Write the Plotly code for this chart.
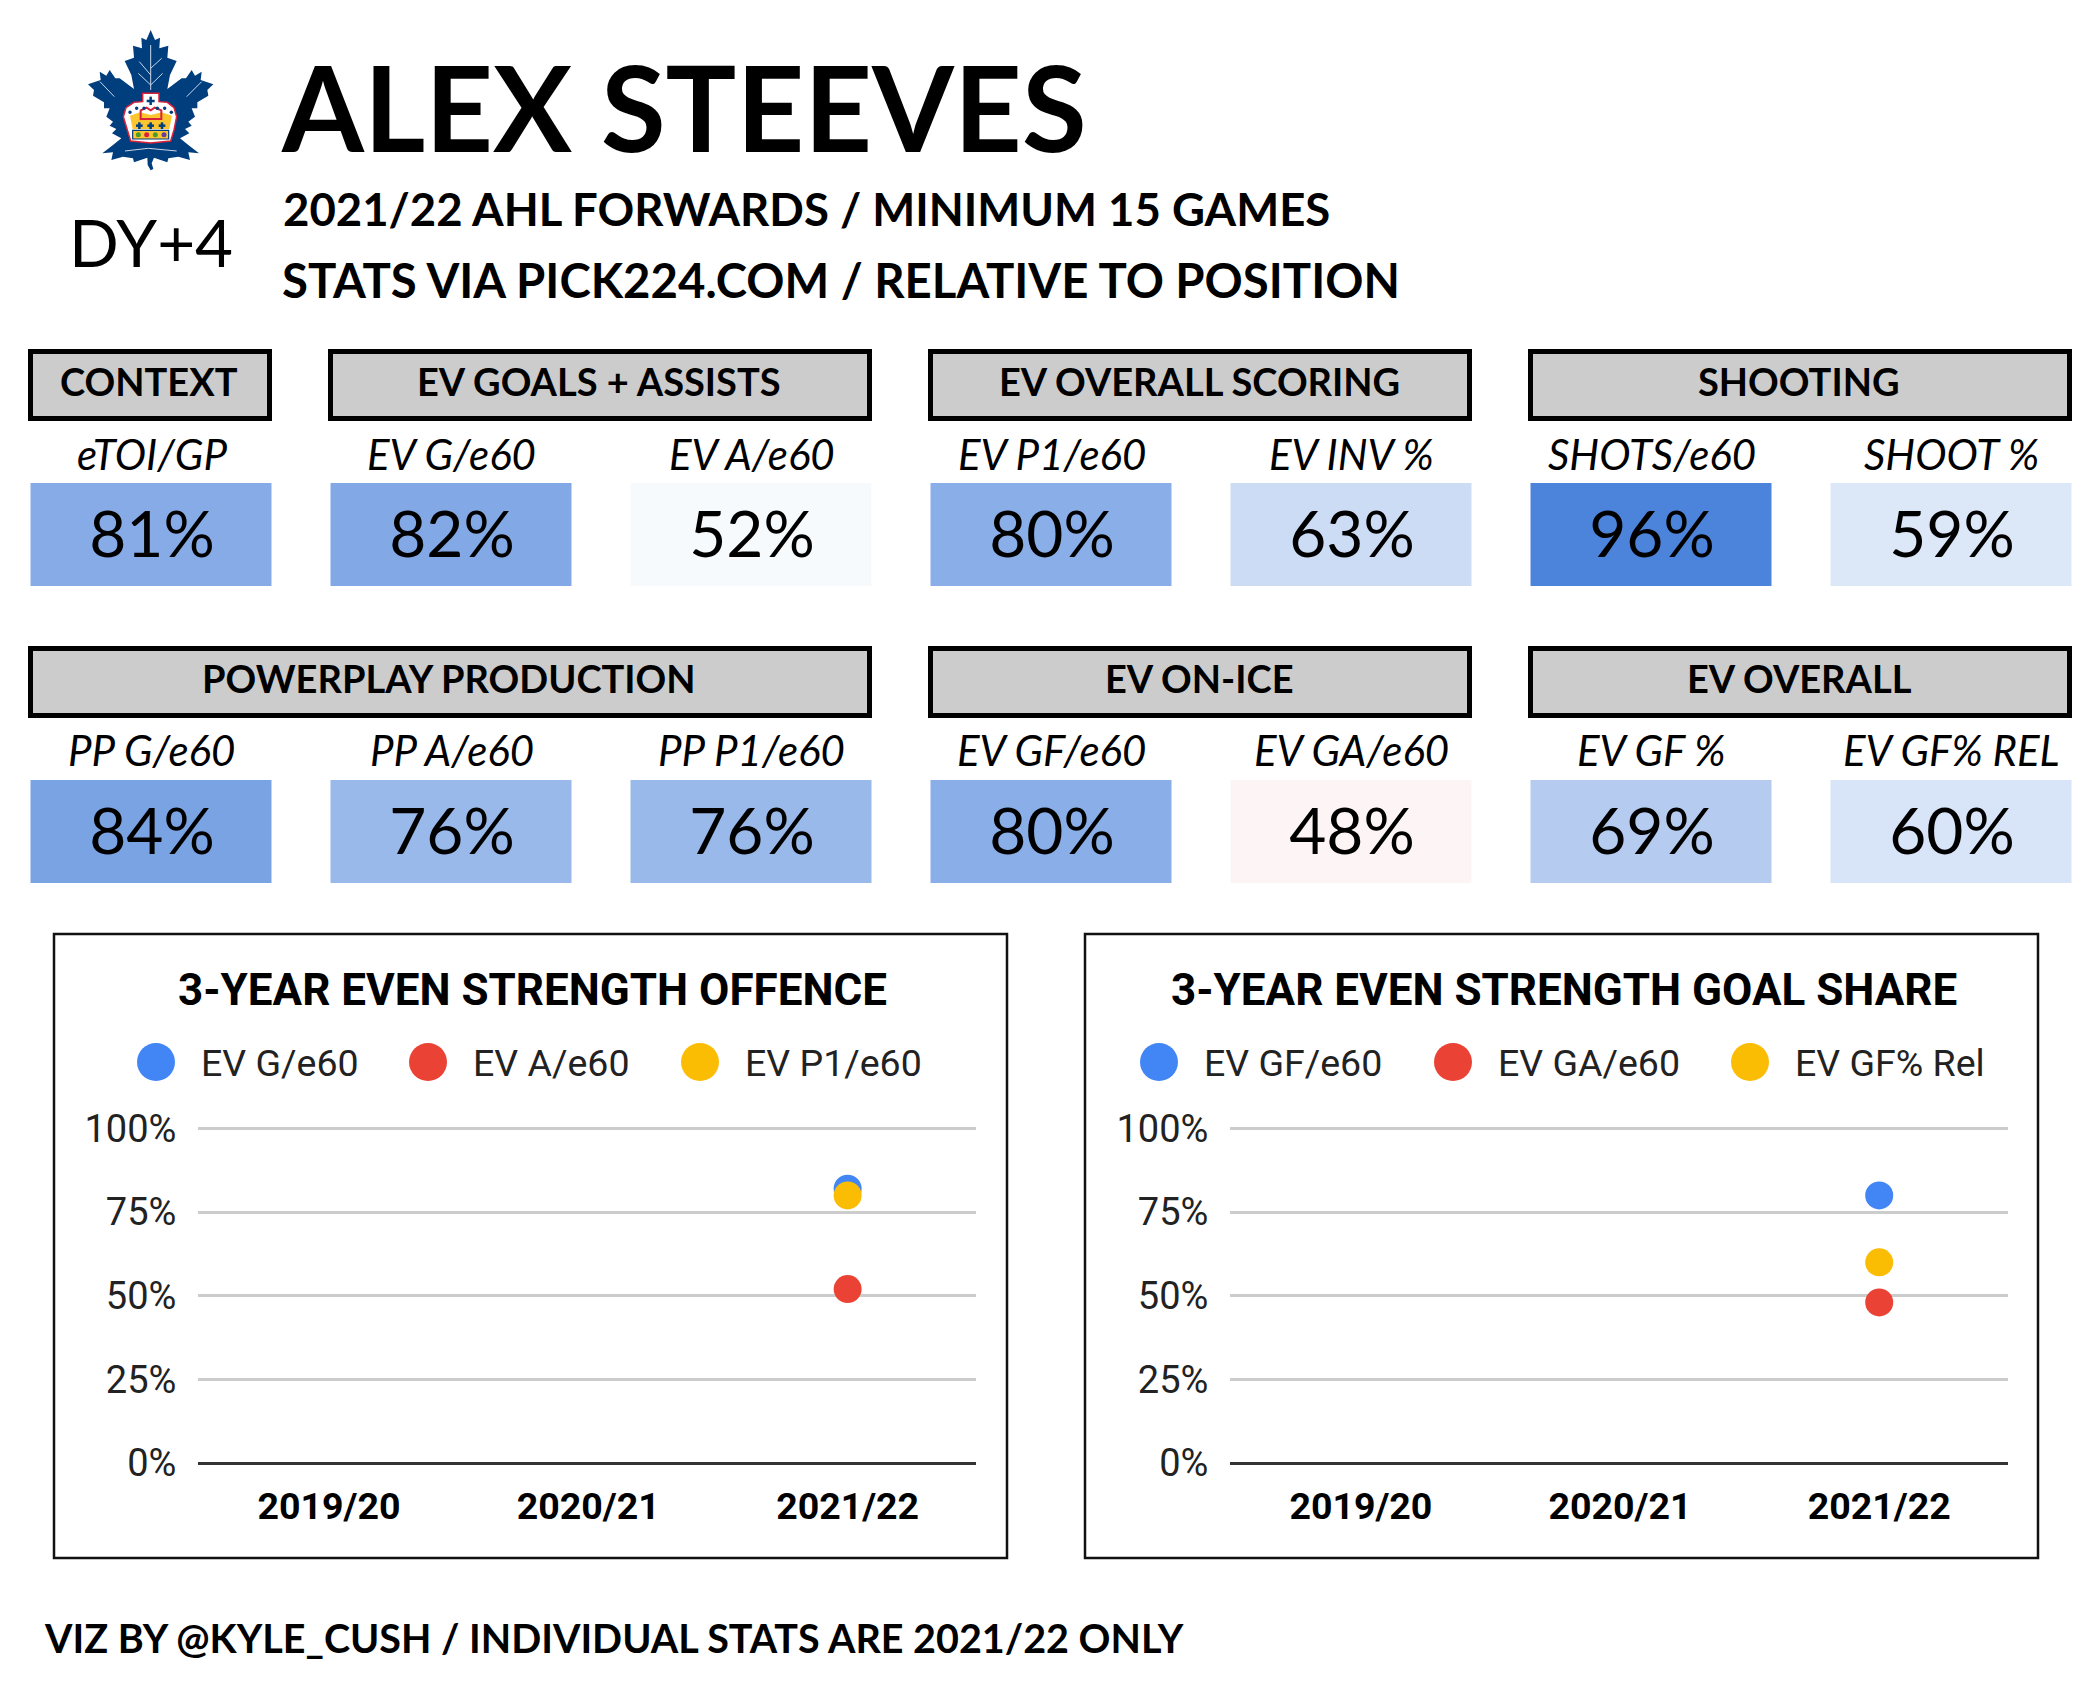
import plotly.graph_objects as go

W, H = 2100, 1700

player = "ALEX STEEVES"
draft_year = "DY+4"
subtitle_1 = "2021/22 AHL FORWARDS / MINIMUM 15 GAMES"
subtitle_2 = "STATS VIA PICK224.COM / RELATIVE TO POSITION"
footer = "VIZ BY @KYLE_CUSH / INDIVIDUAL STATS ARE 2021/22 ONLY"

top_labels = ["eTOI/GP", "EV G/e60", "EV A/e60", "EV P1/e60", "EV INV %", "SHOTS/e60", "SHOOT %"]
top_values = [81, 82, 52, 80, 63, 96, 59]
bottom_labels = ["PP G/e60", "PP A/e60", "PP P1/e60", "EV GF/e60", "EV GA/e60", "EV GF %", "EV GF% REL"]
bottom_values = [84, 76, 76, 80, 48, 69, 60]

top_sections = ["CONTEXT", "EV GOALS + ASSISTS", "EV OVERALL SCORING", "SHOOTING"]
top_spans = [(0, 0), (1, 2), (3, 4), (5, 6)]
bottom_sections = ["POWERPLAY PRODUCTION", "EV ON-ICE", "EV OVERALL"]
bottom_spans = [(0, 2), (3, 4), (5, 6)]

seasons = ["2019/20", "2020/21", "2021/22"]
pct_ticks = [0, 25, 50, 75, 100]
pct_labels = ["0%", "25%", "50%", "75%", "100%"]

left_title = "3-YEAR EVEN STRENGTH OFFENCE"
left_names = ["EV G/e60", "EV A/e60", "EV P1/e60"]
left_g = [None, None, 82]
left_a = [None, None, 52]
left_p1 = [None, None, 80]

right_title = "3-YEAR EVEN STRENGTH GOAL SHARE"
right_names = ["EV GF/e60", "EV GA/e60", "EV GF% Rel"]
right_gf = [None, None, 80]
right_ga = [None, None, 48]
right_rel = [None, None, 60]

series_colors = ["#4285f4", "#ea4335", "#fbbc04"]

HEAD = "Lato"
NAVY = "#003e7e"

# tile grid in pixels
col_left, col_pitch, tile_w = 31, 300, 241
row_mid, row_pitch, tile_h = 534.5, 297, 103

# chart plot area in pixels, the range runs a little past 0 and 100 so both edge lines draw
plot_top, plot_bottom = 1128.5, 1463
pad = 1
unit = (plot_bottom - plot_top) / 100


def fx(x):
    return x / W


def fy(y):
    return 1 - y / H


def poly(points, close=True):
    # svg path in paper coords from pixel points
    s = "M " + " L ".join(f"{fx(x):.5f} {fy(y):.5f}" for x, y in points)
    return s + (" Z" if close else "")


def text(x, y, s, size, family=HEAD, bold=False, italic=False, anchor="center", color="black"):
    return dict(
        x=fx(x), y=fy(y), xref="paper", yref="paper", text=s, showarrow=False,
        xanchor=anchor, yanchor="middle",
        font=dict(family=family, size=size, color=color,
                  weight="bold" if bold else "normal",
                  style="italic" if italic else "normal"),
    )


def rect(x0, y0, x1, y1, fill="rgba(0,0,0,0)", line="black", width=0):
    return dict(type="rect", xref="paper", yref="paper", x0=fx(x0), x1=fx(x1), y0=fy(y0), y1=fy(y1),
                fillcolor=fill, line=dict(color=line, width=width), layer="below")


def circle(cx, cy, d, color):
    return dict(type="circle", xref="paper", yref="paper", x0=fx(cx - d / 2), x1=fx(cx + d / 2),
                y0=fy(cy - d / 2), y1=fy(cy + d / 2), fillcolor=color, line=dict(width=0))


def path(points, fill="rgba(0,0,0,0)", line=None, width=0, close=True):
    return dict(type="path", xref="paper", yref="paper", path=poly(points, close),
                fillcolor=fill, line=dict(color=line or "rgba(0,0,0,0)", width=width))


def logo_shapes():
    # logo, in a 145x150 box (3x units)
    def p(pts):
        return [(80 + x / 3, 25 + y / 3) for x, y in pts]

    def mirror(pts):
        return [(424 - x, y) for x, y in reversed(pts)]

    half = [(212, 15), (225, 45), (240, 38), (238, 70), (265, 62), (262, 98), (290, 108), (270, 150),
            (262, 192), (305, 160), (318, 160), (335, 135), (345, 152), (365, 140), (362, 165),
            (400, 178), (382, 195), (385, 212), (352, 232), (352, 250), (335, 250), (345, 275),
            (325, 290), (335, 302), (315, 312), (328, 325), (300, 340), (325, 360), (357, 385),
            (325, 382), (330, 405), (295, 395), (265, 400), (262, 412), (222, 398)]
    leaf = half + [(215, 415), (220, 432), (212, 436), (203, 420)] + mirror(half)[:-1]
    out = [path(p(leaf), NAVY)]

    # veins
    for v in [[(212, 60), (212, 195)], [(212, 150), (178, 110)], [(212, 130), (245, 100)],
              [(212, 180), (175, 145)], [(212, 180), (248, 145)],
              [(60, 170), (103, 215)], [(365, 170), (320, 215)],
              [(135, 378), (205, 370), (290, 378)]]:
        out.append(path(p(v), line="#c9d6e6", width=1, close=False))

    # crown badge
    badge = [(188, 205), (237, 205), (237, 230), (262, 232), (282, 248), (290, 275), (282, 315), (272, 348),
             (212, 354), (152, 348), (142, 315), (130, 275), (138, 248), (162, 232), (188, 230)]
    out.append(path(p(badge), "white", "#d8213b", 1.5))
    gold = [(150, 272), (180, 262), (212, 270), (245, 262), (276, 272), (268, 312), (158, 312)]
    out.append(path(p(gold), "#fdc52f"))
    band = [(158, 316), (266, 316), (266, 342), (158, 342)]
    out.append(path(p(band), "#fdc52f", NAVY, 1.2))
    arch = [(182, 282), (182, 256), (200, 248), (212, 256), (224, 248), (244, 256), (244, 282)]
    out.append(path(p(arch), line="#d8213b", width=2))
    cross = [[(212, 215), (212, 240)], [(200, 228), (224, 228)], [(178, 292), (178, 312)], [(168, 302), (188, 302)],
             [(212, 292), (212, 312)], [(202, 302), (222, 302)], [(246, 292), (246, 312)], [(236, 302), (256, 302)]]
    for c in cross:
        out.append(path(p(c), line=NAVY, width=2.5, close=False))
    for x in [150, 170, 192, 232, 254, 274]:
        cx, cy = p([(x, 250 if 165 < x < 260 else 262)])[0]
        out.append(circle(cx, cy, 3.5, NAVY))
    for x, c in zip([175, 200, 226, 252], ["#4c9a2a", "#d8213b", "#4c9a2a", "#6a3d9a"]):
        cx, cy = p([(x, 329)])[0]
        out.append(circle(cx, cy, 5, c))
    return out


fig = go.Figure()

# percentile tiles
fig.add_trace(go.Heatmap(
    z=[top_values, bottom_values],
    zmin=0, zmax=100,
    colorscale=[[0, "#cc0000"], [0.5, "#ffffff"], [1, "#3c78d8"]],
    showscale=False, hoverinfo="skip",
    xgap=col_pitch - tile_w, ygap=row_pitch - tile_h,
    texttemplate="%{z}%",
    textfont=dict(family=HEAD, size=64, color="black"),
    xaxis="x", yaxis="y",
))

# 3-year dot charts
for names, vals, xa, ya in [
    (left_names, [left_g, left_a, left_p1], "x2", "y2"),
    (right_names, [right_gf, right_ga, right_rel], "x3", "y3"),
]:
    for name, v, c in zip(names, vals, series_colors):
        fig.add_trace(go.Scatter(
            x=seasons, y=v, name=name, mode="markers", xaxis=xa, yaxis=ya,
            marker=dict(color=c, size=28), showlegend=False, cliponaxis=False,
        ))

shapes = []
notes = []

notes.append(text(279, 106, player, 118, bold=True, anchor="left"))
notes.append(text(151, 242, draft_year, 65.5))
notes.append(text(281, 209, subtitle_1, 45.5, bold=True, anchor="left"))
notes.append(text(280, 280, subtitle_2, 47.3, bold=True, anchor="left"))
notes.append(text(41.5, 1637, footer, 39.5, bold=True, anchor="left"))

# section headers and metric labels
for r, (sections, spans, labels) in enumerate([
    (top_sections, top_spans, top_labels),
    (bottom_sections, bottom_spans, bottom_labels),
]):
    mid = row_mid + r * row_pitch
    y0 = mid - 185.5
    y1 = y0 + 72
    for name, (a, b) in zip(sections, spans):
        x0 = col_left + a * col_pitch - 3
        x1 = col_left + b * col_pitch + tile_w
        shapes.append(rect(x0 + 2.5, y0 + 2.5, x1 - 2.5, y1 - 2.5, "#cccccc", "black", 5))
        notes.append(text((x0 + x1) / 2 - 1, (y0 + y1) / 2 - 4, name, 38, bold=True))
    for i, lab in enumerate(labels):
        notes.append(text(col_left + i * col_pitch + tile_w / 2, mid - 81, lab, 42, italic=True))

# chart frames, titles and legends
chart_boxes = [(54, 1007, 198, 976), (1085, 2038, 1230, 2007)]
legend_dots = [[156, 428, 700], [1159, 1453, 1750]]
for (fx0, fx1, px0, px1), title, names, dots in zip(
    chart_boxes, [left_title, right_title], [left_names, right_names], legend_dots
):
    shapes.append(rect(fx0, 934, fx1, 1558, "white", "#111111", 2.5))
    notes.append(text((fx0 + fx1) / 2 + 2, 990, title, 44, family="Roboto", bold=True))
    for cx, name, c in zip(dots, names, series_colors):
        shapes.append(circle(cx, 1062, 38, c))
        notes.append(text(cx + 42.5, 1063, name, 37.5, family="Roboto", anchor="left", color="#222222"))

shapes += logo_shapes()


def pct_axis(anchor):
    return dict(
        domain=[fy(plot_bottom + pad * unit), fy(plot_top - pad * unit)], range=[-pad, 100 + pad], anchor=anchor,
        tickvals=pct_ticks, ticktext=pct_labels, automargin=False,
        showgrid=True, gridcolor="#cccccc", gridwidth=3, zeroline=True, zerolinecolor="#333333", zerolinewidth=3,
        ticks="outside", ticklen=13, tickcolor="rgba(0,0,0,0)", showline=False,
        tickfont=dict(family="Roboto", size=38, color="#222222"),
    )


def season_axis(anchor, x0, x1):
    return dict(
        domain=[fx(x0), fx(x1)], range=[-0.505, 2.495], anchor=anchor, type="category", automargin=False,
        categoryorder="array", categoryarray=seasons, showgrid=False, zeroline=False, showline=False,
        ticks="outside", ticklen=7, tickcolor="rgba(0,0,0,0)",
        tickfont=dict(family="Roboto", size=37.5, color="black", weight="bold"),
    )


# x range so cell i is centred on its tile
center0 = col_left + tile_w / 2

fig.update_layout(
    template="none",
    width=W, height=H,
    margin=dict(l=0, r=0, t=0, b=0, pad=0),
    paper_bgcolor="white", plot_bgcolor="rgba(0,0,0,0)",
    showlegend=False,
    shapes=shapes, annotations=notes,
    xaxis=dict(domain=[0, 1], range=[-center0 / col_pitch, (W - center0) / col_pitch], visible=False, automargin=False),
    yaxis=dict(domain=[fy(row_mid + 1.5 * row_pitch), fy(row_mid - 0.5 * row_pitch)], range=[1.5, -0.5],
               visible=False, automargin=False),
    xaxis2=season_axis("y2", 198, 976),
    yaxis2=pct_axis("x2"),
    xaxis3=season_axis("y3", 1230, 2007.5),
    yaxis3=pct_axis("x3"),
)

fig.write_html("out.html", config={"displayModeBar": False}, post_script="document.body.style.margin='0';")
